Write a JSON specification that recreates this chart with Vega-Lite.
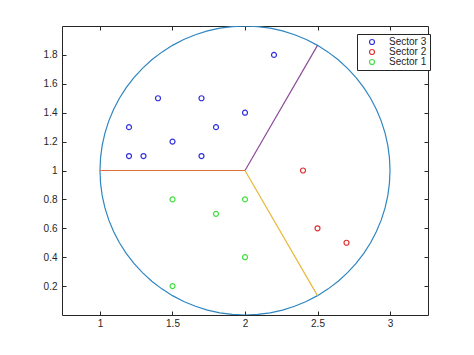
{
  "$schema": "https://vega.github.io/schema/vega-lite/v6.json",
  "width": 366,
  "height": 289,
  "autosize": {"type": "none"},
  "padding": {"left": 62, "top": 26, "right": 46, "bottom": 40},
  "background": "white",
  "config": {
    "view": {"stroke": "#262626", "strokeWidth": 1},
    "font": "Liberation Sans",
    "axis": {
      "grid": false,
      "domain": false,
      "tickColor": "#262626",
      "labelColor": "#262626",
      "labelFont": "Liberation Sans",
      "labelFontSize": 10,
      "title": null
    },
    "legend": {
      "orient": "none",
      "legendX": 295,
      "legendY": 8,
      "strokeColor": "#262626",
      "fillColor": "white",
      "padding": 3,
      "symbolOffset": 7,
      "labelOffset": 12,
      "labelFont": "Liberation Sans",
      "labelFontSize": 10,
      "labelColor": "#262626",
      "rowPadding": 0,
      "symbolSize": 25,
      "symbolStrokeWidth": 1.2,
      "title": null
    }
  },
  "datasets": {
    "circle": [
      {"t": 0, "x": 3, "y": 1}, {"t": 5, "x": 2.9962, "y": 1.0872}, {"t": 10, "x": 2.9848, "y": 1.1736},
      {"t": 15, "x": 2.9659, "y": 1.2588}, {"t": 20, "x": 2.9397, "y": 1.342}, {"t": 25, "x": 2.9063, "y": 1.4226},
      {"t": 30, "x": 2.866, "y": 1.5}, {"t": 35, "x": 2.8192, "y": 1.5736}, {"t": 40, "x": 2.766, "y": 1.6428},
      {"t": 45, "x": 2.7071, "y": 1.7071}, {"t": 50, "x": 2.6428, "y": 1.766}, {"t": 55, "x": 2.5736, "y": 1.8192},
      {"t": 60, "x": 2.5, "y": 1.866}, {"t": 65, "x": 2.4226, "y": 1.9063}, {"t": 70, "x": 2.342, "y": 1.9397},
      {"t": 75, "x": 2.2588, "y": 1.9659}, {"t": 80, "x": 2.1736, "y": 1.9848}, {"t": 85, "x": 2.0872, "y": 1.9962},
      {"t": 90, "x": 2, "y": 2}, {"t": 95, "x": 1.9128, "y": 1.9962}, {"t": 100, "x": 1.8264, "y": 1.9848},
      {"t": 105, "x": 1.7412, "y": 1.9659}, {"t": 110, "x": 1.658, "y": 1.9397}, {"t": 115, "x": 1.5774, "y": 1.9063},
      {"t": 120, "x": 1.5, "y": 1.866}, {"t": 125, "x": 1.4264, "y": 1.8192}, {"t": 130, "x": 1.3572, "y": 1.766},
      {"t": 135, "x": 1.2929, "y": 1.7071}, {"t": 140, "x": 1.234, "y": 1.6428}, {"t": 145, "x": 1.1808, "y": 1.5736},
      {"t": 150, "x": 1.134, "y": 1.5}, {"t": 155, "x": 1.0937, "y": 1.4226}, {"t": 160, "x": 1.0603, "y": 1.342},
      {"t": 165, "x": 1.0341, "y": 1.2588}, {"t": 170, "x": 1.0152, "y": 1.1736}, {"t": 175, "x": 1.0038, "y": 1.0872},
      {"t": 180, "x": 1, "y": 1}, {"t": 185, "x": 1.0038, "y": 0.9128}, {"t": 190, "x": 1.0152, "y": 0.8264},
      {"t": 195, "x": 1.0341, "y": 0.7412}, {"t": 200, "x": 1.0603, "y": 0.658}, {"t": 205, "x": 1.0937, "y": 0.5774},
      {"t": 210, "x": 1.134, "y": 0.5}, {"t": 215, "x": 1.1808, "y": 0.4264}, {"t": 220, "x": 1.234, "y": 0.3572},
      {"t": 225, "x": 1.2929, "y": 0.2929}, {"t": 230, "x": 1.3572, "y": 0.234}, {"t": 235, "x": 1.4264, "y": 0.1808},
      {"t": 240, "x": 1.5, "y": 0.134}, {"t": 245, "x": 1.5774, "y": 0.0937}, {"t": 250, "x": 1.658, "y": 0.0603},
      {"t": 255, "x": 1.7412, "y": 0.0341}, {"t": 260, "x": 1.8264, "y": 0.0152}, {"t": 265, "x": 1.9128, "y": 0.0038},
      {"t": 270, "x": 2, "y": 0}, {"t": 275, "x": 2.0872, "y": 0.0038}, {"t": 280, "x": 2.1736, "y": 0.0152},
      {"t": 285, "x": 2.2588, "y": 0.0341}, {"t": 290, "x": 2.342, "y": 0.0603}, {"t": 295, "x": 2.4226, "y": 0.0937},
      {"t": 300, "x": 2.5, "y": 0.134}, {"t": 305, "x": 2.5736, "y": 0.1808}, {"t": 310, "x": 2.6428, "y": 0.234},
      {"t": 315, "x": 2.7071, "y": 0.2929}, {"t": 320, "x": 2.766, "y": 0.3572}, {"t": 325, "x": 2.8192, "y": 0.4264},
      {"t": 330, "x": 2.866, "y": 0.5}, {"t": 335, "x": 2.9063, "y": 0.5774}, {"t": 340, "x": 2.9397, "y": 0.658},
      {"t": 345, "x": 2.9659, "y": 0.7412}, {"t": 350, "x": 2.9848, "y": 0.8264}, {"t": 355, "x": 2.9962, "y": 0.9128},
      {"t": 360, "x": 3, "y": 1}
    ],
    "edges": [
      {"edge": "west", "x": 2, "y": 1, "x2": 1, "y2": 1},
      {"edge": "northeast", "x": 2, "y": 1, "x2": 2.5, "y2": 1.866},
      {"edge": "southeast", "x": 2, "y": 1, "x2": 2.5, "y2": 0.134}
    ],
    "points": [
      {"sector": "Sector 3", "x": 1.2, "y": 1.3},
      {"sector": "Sector 3", "x": 1.2, "y": 1.1},
      {"sector": "Sector 3", "x": 1.3, "y": 1.1},
      {"sector": "Sector 3", "x": 1.4, "y": 1.5},
      {"sector": "Sector 3", "x": 1.5, "y": 1.2},
      {"sector": "Sector 3", "x": 1.7, "y": 1.5},
      {"sector": "Sector 3", "x": 1.7, "y": 1.1},
      {"sector": "Sector 3", "x": 1.8, "y": 1.3},
      {"sector": "Sector 3", "x": 2.0, "y": 1.4},
      {"sector": "Sector 3", "x": 2.2, "y": 1.8},
      {"sector": "Sector 2", "x": 2.4, "y": 1.0},
      {"sector": "Sector 2", "x": 2.5, "y": 0.6},
      {"sector": "Sector 2", "x": 2.7, "y": 0.5},
      {"sector": "Sector 1", "x": 1.5, "y": 0.8},
      {"sector": "Sector 1", "x": 1.8, "y": 0.7},
      {"sector": "Sector 1", "x": 2.0, "y": 0.8},
      {"sector": "Sector 1", "x": 2.0, "y": 0.4},
      {"sector": "Sector 1", "x": 1.5, "y": 0.2}
    ]
  },
  "layer": [
    {
      "data": {"name": "circle"},
      "mark": {"type": "line", "color": "#2f86c0", "strokeWidth": 1.2, "clip": true},
      "encoding": {
        "x": {"field": "x", "type": "quantitative", "scale": {"domain": [0.738, 3.262], "nice": false, "zero": false},
              "axis": {"orient": "bottom", "values": [1, 1.5, 2, 2.5, 3], "format": "~g", "ticks": false, "tickSize": 0, "labelPadding": 3}},
        "y": {"field": "y", "type": "quantitative", "scale": {"domain": [0, 2], "nice": false, "zero": false},
              "axis": {"orient": "left", "values": [0.2, 0.4, 0.6, 0.8, 1, 1.2, 1.4, 1.6, 1.8], "format": "~g", "ticks": false, "tickSize": 0, "labelPadding": 5}},
        "order": {"field": "t", "type": "quantitative"}
      }
    },
    {
      "data": {"name": "edges"},
      "mark": {"type": "rule", "strokeWidth": 1.2},
      "encoding": {
        "x": {"field": "x", "type": "quantitative",
              "axis": {"orient": "top", "values": [1, 1.5, 2, 2.5, 3], "labels": false, "tickSize": -4}},
        "y": {"field": "y", "type": "quantitative",
              "axis": {"orient": "right", "values": [0.2, 0.4, 0.6, 0.8, 1, 1.2, 1.4, 1.6, 1.8], "labels": false, "tickSize": -4}},
        "x2": {"field": "x2"},
        "y2": {"field": "y2"},
        "color": {"field": "edge", "type": "nominal",
                  "scale": {"domain": ["west", "northeast", "southeast"], "range": ["#e0703a", "#8e4a9a", "#e8b83a"]},
                  "legend": null}
      }
    },
    {
      "data": {"name": "points"},
      "mark": {"type": "point", "shape": "circle", "filled": false, "size": 25, "strokeWidth": 1.2, "opacity": 1},
      "encoding": {
        "x": {"field": "x", "type": "quantitative",
              "axis": {"orient": "bottom", "values": [1, 1.5, 2, 2.5, 3], "labels": false, "tickSize": -4}},
        "y": {"field": "y", "type": "quantitative",
              "axis": {"orient": "left", "values": [0.2, 0.4, 0.6, 0.8, 1, 1.2, 1.4, 1.6, 1.8], "labels": false, "tickSize": -4}},
        "color": {"field": "sector", "type": "nominal",
                  "scale": {"domain": ["Sector 3", "Sector 2", "Sector 1"], "range": ["#3030e0", "#e03030", "#40e040"]}}
      }
    }
  ],
  "resolve": {
    "scale": {"color": "independent"},
    "axis": {"x": "independent", "y": "independent"}
  }
}
